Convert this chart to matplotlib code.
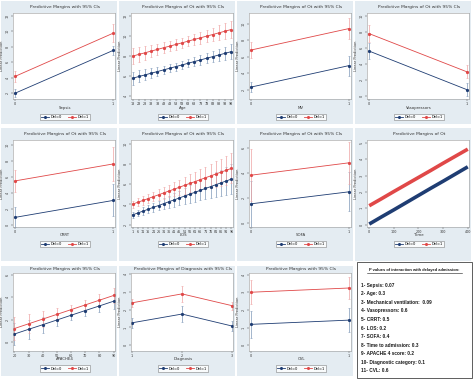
import matplotlib
matplotlib.use("Agg")
import matplotlib.pyplot as plt
from matplotlib.patches import Rectangle
from matplotlib.lines import Line2D

W, H = 474, 381

# ---------------- data ----------------
sepsis_x = [0, 1]
sepsis_d0 = [2.0, 7.52]; sepsis_d0e = [0.52, 0.6]
sepsis_d1 = [4.17, 9.74]; sepsis_d1e = [0.7, 1.17]

age_x = [18, 23, 28, 33, 38, 43, 48, 53, 58, 63, 68, 73, 78, 83, 88, 93, 98]
age_d0 = [5.75, 5.92, 6.08, 6.25, 6.41, 6.58, 6.74, 6.91, 7.07, 7.24, 7.41, 7.57, 7.74, 7.90, 8.07, 8.23, 8.40]
age_d0e = [0.66, 0.6, 0.55, 0.5, 0.46, 0.43, 0.41, 0.40, 0.40, 0.41, 0.43, 0.46, 0.5, 0.55, 0.6, 0.66, 0.72]
age_d1 = [7.96, 8.13, 8.29, 8.46, 8.62, 8.79, 8.95, 9.12, 9.28, 9.45, 9.62, 9.78, 9.95, 10.11, 10.28, 10.44, 10.61]
age_d1e = [0.80, 0.74, 0.68, 0.63, 0.58, 0.55, 0.52, 0.51, 0.51, 0.52, 0.55, 0.58, 0.63, 0.68, 0.74, 0.80, 0.86]

mv_x = [0, 1]
mv_d0 = [2.32, 4.92]; mv_d0e = [0.6, 1.2]
mv_d1 = [6.8, 9.4]; mv_d1e = [1.0, 1.3]

vaso_x = [0, 1]
vaso_d0 = [5.63, 0.75]; vaso_d0e = [1.0, 0.8]
vaso_d1 = [7.83, 3.0]; vaso_d1e = [1.04, 0.83]

crrt_x = [0, 1]
crrt_d0 = [0.99, 3.09]; crrt_d0e = [1.23, 1.98]
crrt_d1 = [5.51, 7.61]; crrt_d1e = [1.32, 2.06]

los_x = [1, 6, 11, 16, 21, 26, 31, 36, 41, 46, 51, 56, 61, 66, 71, 76, 81, 86, 91, 96]
los_d0 = [2.97, 3.16, 3.34, 3.53, 3.72, 3.90, 4.09, 4.28, 4.46, 4.65, 4.84, 5.03, 5.21, 5.40, 5.59, 5.77, 5.96, 6.15, 6.33, 6.52]
los_d0e = [0.32, 0.34, 0.37, 0.40, 0.44, 0.49, 0.54, 0.60, 0.66, 0.72, 0.79, 0.86, 0.93, 1.00, 1.07, 1.14, 1.22, 1.29, 1.37, 1.45]
los_d1 = [4.03, 4.22, 4.40, 4.59, 4.78, 4.96, 5.15, 5.34, 5.52, 5.71, 5.90, 6.09, 6.27, 6.46, 6.65, 6.83, 7.02, 7.21, 7.39, 7.58]
los_d1e = [0.36, 0.38, 0.41, 0.44, 0.48, 0.53, 0.58, 0.64, 0.70, 0.76, 0.83, 0.90, 0.97, 1.04, 1.11, 1.18, 1.26, 1.33, 1.41, 1.49]

sofa_x = [0, 1]
sofa_d0 = [1.53, 2.5]; sofa_d0e = [1.84, 1.58]
sofa_d1 = [3.84, 4.84]; sofa_d1e = [2.1, 1.7]

time_x = [0, 50, 100, 150, 200, 250, 300, 350, 400]
time_d0 = [0.04, 0.48, 0.91, 1.35, 1.79, 2.23, 2.66, 3.10, 3.54]
time_d1 = [1.16, 1.59, 2.03, 2.46, 2.89, 3.32, 3.76, 4.19, 4.62]

apache_x = [20, 30, 40, 50, 60, 70, 80, 90]
apache_d0 = [0.71, 1.13, 1.54, 1.96, 2.38, 2.80, 3.21, 3.63]
apache_d0e = [1.0, 0.85, 0.7, 0.55, 0.45, 0.45, 0.55, 0.65]
apache_d1 = [1.2, 1.62, 2.04, 2.46, 2.88, 3.30, 3.72, 4.14]
apache_d1e = [1.0, 0.85, 0.7, 0.55, 0.45, 0.45, 0.55, 0.65]

diag_x = [1, 2, 3]
diag_d0 = [1.26, 1.75, 1.08]; diag_d0e = [0.27, 0.45, 0.27]
diag_d1 = [2.38, 2.88, 2.22]; diag_d1e = [0.22, 0.45, 0.22]

cvl_x = [0, 1]
cvl_d0 = [1.18, 1.42]; cvl_d0e = [0.77, 0.69]
cvl_d1 = [3.0, 3.24]; cvl_d1e = [0.68, 0.6]

pvalue_title = "P values of interaction with delayed admission:"
pvalue_lines = ["1- Sepsis: 0.07", "2- Age: 0.3", "3- Mechanical ventilation:  0.09",
                "4- Vasopressors: 0.6", "5- CRRT: 0.5", "6- LOS: 0.2", "7- SOFA: 0.4",
                "8- Time to admission: 0.3", "9- APACHE 4 score: 0.2",
                "10- Diagnostic category: 0.1", "11- CVL: 0.6"]

legend_labels = ["Del=0", "Del=1"]

# ---------------- style ----------------
BG = "#e4ecf2"
C0 = "#1f3d73"
C1 = "#e04848"
E0 = "#7f98b8"
E1 = "#eea3a3"

fig = plt.figure(figsize=(W / 100, H / 100), dpi=100)
fig.patch.set_facecolor("white")


def add_rect(x0, y0, x1, y1, fc, ec="none", lw=0, z=-5):
    fig.patches.append(Rectangle((x0 / W, 1 - y1 / H), (x1 - x0) / W, (y1 - y0) / H,
                                 transform=fig.transFigure, facecolor=fc,
                                 edgecolor=ec, linewidth=lw, zorder=z))


ROWS = [
    dict(bt=1, bb=124, ft=13, fb=99, ty=7, ly=117, xl=108),
    dict(bt=128, bb=261, ft=140, fb=227, ty=134, ly=244, xl=235),
    dict(bt=266, bb=376, ft=273, fb=351, ty=269, ly=368.5, xl=359),
]
COLX = [0, 118, 236, 354]


def panel(col, row, title, xlabel, x, d0, d1, d0e=None, d1e=None, xticks=None,
          yticks=None, ylim=None, xlim=None, thick=False):
    r = ROWS[row]
    cx = COLX[col]
    add_rect(cx + 1, r["bt"], cx + 117, r["bb"], BG)
    fx0, fx1 = cx + 13, cx + 115
    ax = fig.add_axes([fx0 / W, 1 - r["fb"] / H, (fx1 - fx0) / W, (r["fb"] - r["ft"]) / H])
    ax.set_zorder(2)
    ax.set_facecolor("white")
    for s in ax.spines.values():
        s.set_color("#9a9a9a")
        s.set_linewidth(0.4)
    if thick:
        ax.plot(x, d0, color=C0, lw=2.6, solid_capstyle="butt")
        ax.plot(x, d1, color=C1, lw=2.6, solid_capstyle="butt")
    else:
        ax.errorbar(x, d0, yerr=d0e, fmt="none", ecolor=E0, elinewidth=0.5, capsize=1.0, capthick=0.4)
        ax.errorbar(x, d1, yerr=d1e, fmt="none", ecolor=E1, elinewidth=0.5, capsize=1.0, capthick=0.4)
        ax.plot(x, d0, color=C0, lw=0.6, marker="o", ms=1.3)
        ax.plot(x, d1, color=C1, lw=0.6, marker="o", ms=1.3)
    if xticks is not None:
        ax.set_xticks(xticks)
    else:
        ax.set_xticks(x)
    if xlim is not None:
        ax.set_xlim(*xlim)
    if yticks is not None:
        ax.set_yticks(yticks)
    if ylim is not None:
        ax.set_ylim(*ylim)
    ax.tick_params(axis="both", labelsize=2.4, length=1.2, width=0.3, pad=1, colors="#333333")
    for lab in ax.get_yticklabels():
        lab.set_rotation(90)
        lab.set_va("center")
    ax.set_ylabel("Linear Prediction", fontsize=2.6, labelpad=1.5, color="#333333")
    fig.text((cx + 65) / W, 1 - r["xl"] / H, xlabel, fontsize=2.8, ha="center", va="center", color="#333333")
    fig.text((cx + 65) / W, 1 - r["ty"] / H, title, fontsize=3.2, ha="center", va="center", color="#333333")
    handles = [Line2D([], [], color=C0, lw=0.6, marker="o", ms=1.2),
               Line2D([], [], color=C1, lw=0.6, marker="o", ms=1.2)]
    leg = ax.legend(handles, legend_labels, loc="center", ncol=2, fontsize=2.6,
                    bbox_to_anchor=((cx + 65) / W, 1 - r["ly"] / H), bbox_transform=fig.transFigure,
                    frameon=True, fancybox=False, handlelength=2.2, handletextpad=0.5,
                    columnspacing=1.5, borderpad=0.4)
    leg.get_frame().set_linewidth(0.4)
    leg.get_frame().set_edgecolor("#666666")
    return ax


panel(0, 0, "Predictive Margins with 95% CIs", "Sepsis", sepsis_x, sepsis_d0, sepsis_d1,
      sepsis_d0e, sepsis_d1e, yticks=[2, 4, 6, 8, 10, 12], ylim=(1.26, 12.35), xlim=(-0.02, 1.02))
panel(1, 0, "Predictive Margins of Ot with 95% CIs", "Age", age_x, age_d0, age_d1,
      age_d0e, age_d1e, yticks=[4, 6, 8, 10, 12], ylim=(3.67, 12.26), xlim=(16.5, 99.5))
panel(2, 0, "Predictive Margins of Ot with 95% CIs", "MV", mv_x, mv_d0, mv_d1,
      mv_d0e, mv_d1e, yticks=[2, 4, 6, 8, 10], ylim=(0.88, 11.28), xlim=(-0.02, 1.02))
panel(3, 0, "Predictive Margins of Ot with 95% CIs", "Vasopressors", vaso_x, vaso_d0, vaso_d1,
      vaso_d0e, vaso_d1e, yticks=[0, 2, 4, 6, 8, 10], ylim=(-0.42, 10.42), xlim=(-0.02, 1.02))
panel(0, 1, "Predictive Margins of Ot with 95% CIs", "CRRT", crrt_x, crrt_d0, crrt_d1,
      crrt_d0e, crrt_d1e, yticks=[0, 2, 4, 6, 8, 10], ylim=(-0.2, 10.58), xlim=(-0.02, 1.02))
panel(1, 1, "Predictive Margins of Ot with 95% CIs", "LOS", los_x, los_d0, los_d1,
      los_d0e, los_d1e, yticks=[2, 4, 6, 8, 10], ylim=(1.77, 10.39), xlim=(-0.5, 97.5))
panel(2, 1, "Predictive Margins of Ot with 95% CIs", "SOFA", sofa_x, sofa_d0, sofa_d1,
      sofa_d0e, sofa_d1e, yticks=[0, 2, 4, 6], ylim=(-0.34, 6.68), xlim=(-0.02, 1.02))
panel(3, 1, "Predictive Margins of Ot", "Time", time_x, time_d0, time_d1,
      xticks=[0, 100, 200, 300, 400], yticks=[0, 1, 2, 3, 4, 5], ylim=(-0.14, 5.18),
      xlim=(-9, 405), thick=True)
panel(0, 2, "Predictive Margins with 95% CIs", "APACHE4", apache_x, apache_d0, apache_d1,
      apache_d0e, apache_d1e, yticks=[0, 2, 4, 6], ylim=(-0.8, 6.14), xlim=(19, 91))
panel(1, 2, "Predictive Margins of Diagnosis with 95% CIs", "Diagnosis", diag_x, diag_d0, diag_d1,
      diag_d0e, diag_d1e, yticks=[0, 1, 2, 3, 4], ylim=(-0.32, 4.05), xlim=(0.98, 3.02))
panel(2, 2, "Predictive Margins with 95% CIs", "CVL", cvl_x, cvl_d0, cvl_d1,
      cvl_d0e, cvl_d1e, yticks=[0, 1, 2, 3, 4], ylim=(-0.33, 4.09), xlim=(-0.02, 1.02))

# text box panel
add_rect(357, 262, 472, 378, "white", ec="#444444", lw=0.6)
TXT = dict(fontweight="bold", color="#1a1a1a", family=["Liberation Sans", "DejaVu Sans"])
fig.text(414.5 / W, 1 - 270 / H, pvalue_title, fontsize=2.9, ha="center", va="center", **TXT)
fig.lines.append(Line2D([367 / W, 462 / W], [1 - 273 / H, 1 - 273 / H],
                        transform=fig.transFigure, color="#1a1a1a", lw=0.4))
for i, t in enumerate(pvalue_lines):
    fig.text(361 / W, 1 - (285 + i * 8.6) / H, t, fontsize=3.4, ha="left", va="center", **TXT)

fig.savefig("out.png", dpi=100)
